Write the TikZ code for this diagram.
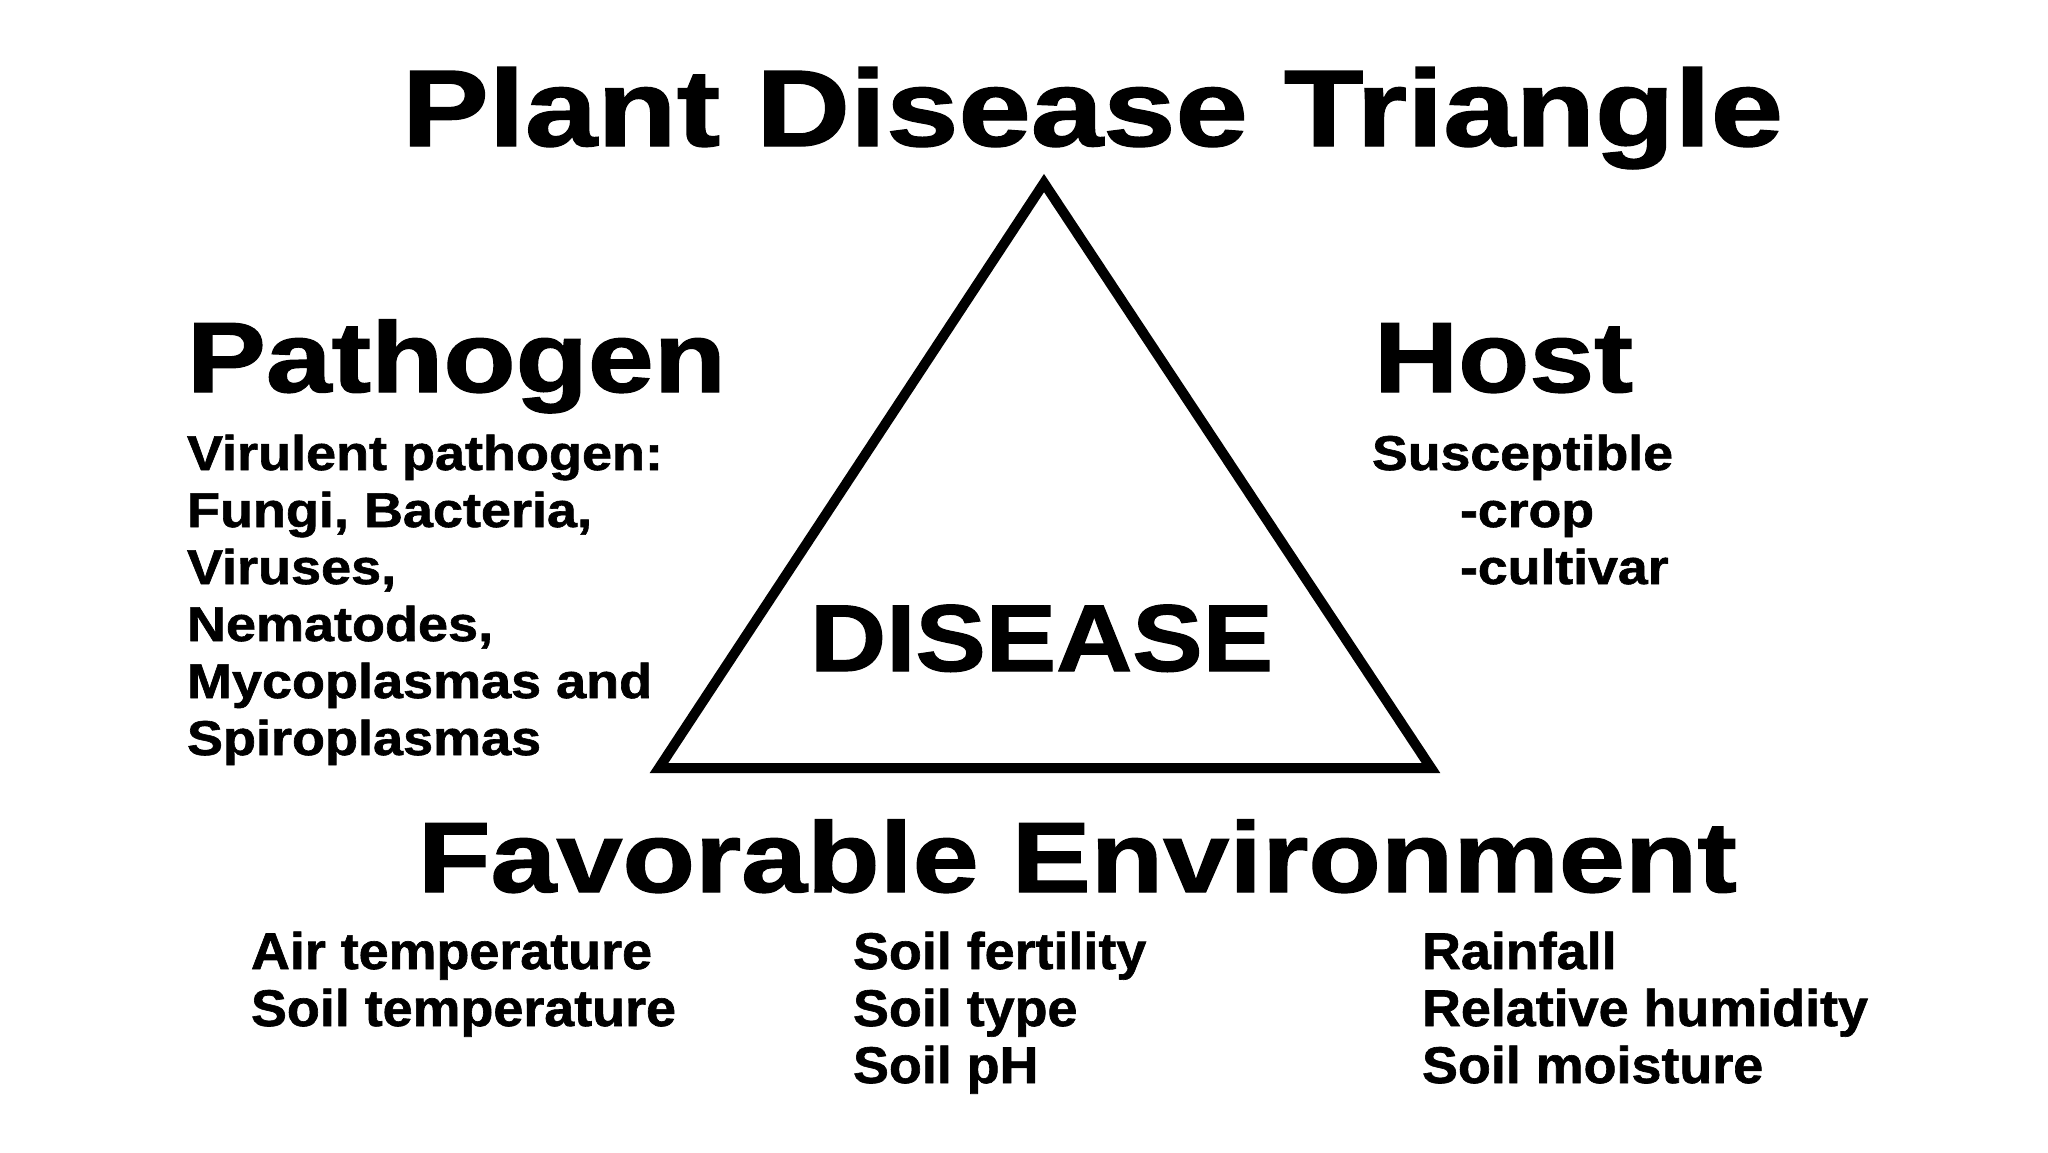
\documentclass[tikz,border=0pt]{standalone}
\usepackage{fontspec}
\setmainfont[BoldFeatures={FakeBold=1.2}]{Liberation Sans}
\usepackage{graphicx}
\newsavebox\measbox
\newlength\measw
% #1 macro, #2 font, #3 target width in px, #4 text
\newcommand\calcsx[4]{\sbox\measbox{\normalfont#2#4}\setlength\measw{\wd\measbox}\pgfmathsetmacro#1{(#3*0.5pt)/\measw}}
\newcommand\fTitle{\fontsize{54.5}{60}\selectfont\bfseries}
\newcommand\fHead{\fontsize{50}{56}\selectfont\bfseries}
\newcommand\fDis{\fontsize{47.5}{52}\selectfont\bfseries}
\newcommand\fList{\fontsize{24.4}{28}\selectfont\bfseries}
\newcommand\fBot{\fontsize{25.8}{30}\selectfont\bfseries}
\AtBeginDocument{%
\calcsx\sxT\fTitle{1381}{Plant Disease Triangle}%
\calcsx\sxP\fHead{539}{Pathogen}%
\calcsx\sxH\fHead{259}{Host}%
\calcsx\sxD\fDis{463}{DISEASE}%
\calcsx\sxF\fHead{1319}{Favorable Environment}%
\calcsx\sxL\fList{476}{Virulent pathogen:}%
\calcsx\sxS\fList{301}{Susceptible}%
\calcsx\sxB\fBot{446}{Relative humidity}%
}
\begin{document}
\begin{tikzpicture}[x=0.5pt,y=-0.5pt,
  txt/.style={anchor=base west,inner sep=0pt,outer sep=0pt},
  ttl/.style={txt,font=\fTitle},
  head/.style={txt,font=\fHead},
  dis/.style={txt,font=\fDis},
  lst/.style={txt,font=\fList},
  bot/.style={txt,font=\fBot},
  tri/.style={line width=5pt,line join=miter,black}]
\fill[white] (0,0) rectangle (2048,1152);
\useasboundingbox (0,0) rectangle (2048,1152);
% triangle
\coordinate (apex) at (1044,183);
\coordinate (bl) at (659,768);
\coordinate (br) at (1431,768);
\draw[tri] (apex) -- (bl) -- (br) -- cycle;
% texts
\node[ttl] (title) at (402,146) {\scalebox{\sxT}[1]{Plant Disease Triangle}};
\node[head] (pathogen) at (187,392) {\scalebox{\sxP}[1]{Pathogen}};
\node[head] (host) at (1374,392) {\scalebox{\sxH}[1]{Host}};
\node[dis] (disease) at (810,671) {\scalebox{\sxD}[1]{DISEASE}};
\node[head] (env) at (418,892) {\scalebox{\sxF}[1]{Favorable Environment}};
% pathogen list
\node[lst] (p1) at (187,470) {\scalebox{\sxL}[1]{Virulent pathogen:}};
\node[lst] (p2) at (187,527) {\scalebox{\sxL}[1]{Fungi, Bacteria,}};
\node[lst] (p3) at (187,584) {\scalebox{\sxL}[1]{Viruses,}};
\node[lst] (p4) at (187,641) {\scalebox{\sxL}[1]{Nematodes,}};
\node[lst] (p5) at (187,698) {\scalebox{\sxL}[1]{Mycoplasmas and}};
\node[lst] (p6) at (187,755) {\scalebox{\sxL}[1]{Spiroplasmas}};
% host list
\node[lst] (h1) at (1372,470) {\scalebox{\sxS}[1]{Susceptible}};
\node[lst] (h2) at (1460,527) {\scalebox{\sxS}[1]{-crop}};
\node[lst] (h3) at (1460,584) {\scalebox{\sxS}[1]{-cultivar}};
% environment lists
\node[bot] (a1) at (251,969) {\scalebox{\sxB}[1]{Air temperature}};
\node[bot] (a2) at (251,1026) {\scalebox{\sxB}[1]{Soil temperature}};
\node[bot] (b1) at (853,969) {\scalebox{\sxB}[1]{Soil fertility}};
\node[bot] (b2) at (853,1026) {\scalebox{\sxB}[1]{Soil type}};
\node[bot] (b3) at (853,1083) {\scalebox{\sxB}[1]{Soil pH}};
\node[bot] (c1) at (1422,969) {\scalebox{\sxB}[1]{Rainfall}};
\node[bot] (c2) at (1422,1026) {\scalebox{\sxB}[1]{Relative humidity}};
\node[bot] (c3) at (1422,1083) {\scalebox{\sxB}[1]{Soil moisture}};
\end{tikzpicture}
\end{document}
